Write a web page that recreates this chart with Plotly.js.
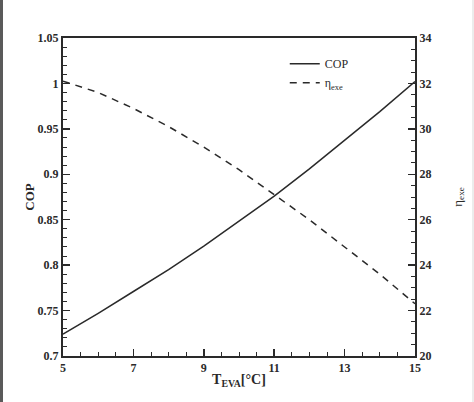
<!DOCTYPE html>
<html>
<head>
<meta charset="utf-8">
<script src="https://cdn.plot.ly/plotly-3.0.1.min.js"></script>
<style>
    html, body { margin: 0; padding: 0; background: #fff; }
    #wrap { width: 474px; height: 402px; box-sizing: border-box; border-left: 3px solid #5a5a5a; border-right: 2px solid #ececec; }
    #plotDiv { width: 469px; height: 402px; }
</style>
</head>
<body>
<div id="wrap"><div id="plotDiv"></div></div>
<script>
// evaporator temperature [°C]
const tEva = [5, 6, 7, 8, 9, 10, 11, 12, 13, 14, 15]
// coefficient of performance (left axis)
const cop = [0.724, 0.747, 0.771, 0.795, 0.821, 0.848, 0.876, 0.906, 0.937, 0.969, 1.002]
// efficiency (right axis)
const etaExe = [32.1, 31.6, 30.9, 30.1, 29.2, 28.2, 27.1, 26.0, 24.8, 23.6, 22.3]

const ink = '#2a2a2a'
const serif = 'Liberation Serif, Times New Roman, serif'

let plotData = [
    {
        type: 'scatter',
        mode: 'lines',
        x: tEva,
        y: cop,
        name: 'COP',
        line: { color: ink, width: 1.5 }
    },
    {
        type: 'scatter',
        mode: 'lines',
        x: tEva,
        y: etaExe,
        yaxis: 'y2',
        name: 'η<sub>exe</sub>',
        line: { color: ink, width: 1.5, dash: '7px,6px' }
    }
]

let tickFont = { family: serif, size: 12, color: ink, weight: 'bold' }

let plotLayout = {
    width: 469,
    height: 402,
    margin: { l: 60, r: 57, t: 38, b: 46 },
    paper_bgcolor: '#fff',
    plot_bgcolor: '#fff',
    font: { family: serif, color: ink },
    showlegend: true,
    legend: {
        x: 0.63,
        y: 0.965,
        xanchor: 'left',
        yanchor: 'top',
        bgcolor: 'rgba(0,0,0,0)',
        font: { family: serif, size: 12, color: ink },
        tracegroupgap: 0
    },
    xaxis: {
        range: [5, 15],
        dtick: 2,
        tick0: 5,
        ticks: 'inside',
        ticklen: 7,
        tickwidth: 1.5,
        tickcolor: ink,
        minor: { dtick: 0.5, ticks: 'inside', ticklen: 4, tickcolor: ink, tickwidth: 1 },
        showline: true,
        linecolor: ink,
        linewidth: 2,
        mirror: true,
        showgrid: false,
        zeroline: false,
        tickfont: tickFont,
        title: { text: 'T<sub>EVA</sub>[°C]', font: { family: serif, size: 14, color: ink, weight: 'bold' }, standoff: 0 }
    },
    yaxis: {
        range: [0.7, 1.05],
        dtick: 0.05,
        tick0: 0.7,
        ticks: 'inside',
        ticklen: 7,
        tickwidth: 1.5,
        tickcolor: ink,
        minor: { dtick: 0.01, ticks: 'inside', ticklen: 4, tickcolor: ink, tickwidth: 1 },
        showline: true,
        linecolor: ink,
        linewidth: 2,
        showgrid: false,
        zeroline: false,
        tickfont: tickFont,
        title: { text: 'COP', font: { family: serif, size: 13, color: ink, weight: 'bold' }, standoff: 0 }
    },
    yaxis2: {
        overlaying: 'y',
        side: 'right',
        range: [20, 34],
        dtick: 2,
        tick0: 20,
        ticks: 'inside',
        ticklen: 7,
        tickwidth: 1.5,
        tickcolor: ink,
        minor: { dtick: 0.5, ticks: 'inside', ticklen: 4, tickcolor: ink, tickwidth: 1 },
        showline: true,
        linecolor: ink,
        linewidth: 2,
        showgrid: false,
        zeroline: false,
        tickfont: tickFont,
        title: { text: 'η<sub>exe</sub>', font: { family: serif, size: 13, color: ink }, standoff: 22 }
    }
}

let plotConfig = { displayModeBar: false, staticPlot: true }

Plotly.newPlot(document.getElementById('plotDiv'), plotData, plotLayout, plotConfig)
</script>
</body>
</html>
